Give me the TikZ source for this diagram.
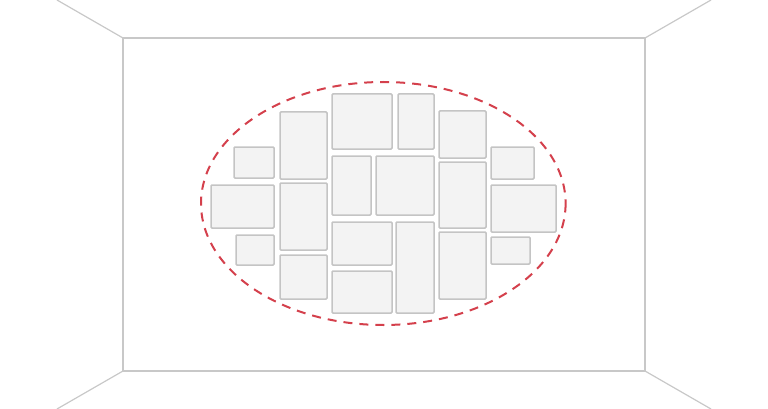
\documentclass[tikz,border=0pt]{standalone}
\definecolor{zonered}{RGB}{212,64,76}
\definecolor{framedraw}{RGB}{196,196,196}
\definecolor{framefill}{RGB}{243,243,243}
\definecolor{walldraw}{RGB}{200,200,200}
\begin{document}
\begin{tikzpicture}[x=1pt,y=-1pt,
  wall/.style={draw=walldraw,line width=1.2pt},
  frame/.style={draw=framedraw,fill=framefill,line width=1.5pt,rounded corners=1pt},
  zone/.style={draw=zonered,line width=2pt,dash pattern=on 9pt off 7pt}]
\useasboundingbox (0,0) rectangle (768,409);
\coordinate (tl) at (123,38);
\coordinate (tr) at (645,38);
\coordinate (bl) at (123,371);
\coordinate (br) at (645,371);
\coordinate (otl) at (57,0);
\coordinate (otr) at (711,0);
\coordinate (obl) at (57,409);
\coordinate (obr) at (711,409);
\draw[wall] (tl) rectangle (br);
\draw[wall] (otl) -- (tl);
\draw[wall] (otr) -- (tr);
\draw[wall] (obl) -- (bl);
\draw[wall] (obr) -- (br);
\draw[zone] (383.3,203.5) ellipse [x radius=182.3, y radius=121.5];
% column 1
\draw[frame] (234,147) rectangle (274,178);
\draw[frame] (211,185) rectangle (274,228);
\draw[frame] (236,235) rectangle (274,265);
% column 2
\draw[frame] (280,112) rectangle (327,179);
\draw[frame] (280,183) rectangle (327,250);
\draw[frame] (280,255) rectangle (327,299);
% column 3
\draw[frame] (332,94) rectangle (392,149);
\draw[frame] (332,156) rectangle (371,215);
\draw[frame] (332,222) rectangle (392,265);
\draw[frame] (332,271) rectangle (392,313);
% middle
\draw[frame] (376,156) rectangle (434,215);
\draw[frame] (398,94) rectangle (434,149);
\draw[frame] (396,222) rectangle (434,313);
% column 5
\draw[frame] (439,111) rectangle (486,158);
\draw[frame] (439,162) rectangle (486,228);
\draw[frame] (439,232) rectangle (486,299);
% column 6
\draw[frame] (491,147) rectangle (534,179);
\draw[frame] (491,185) rectangle (556,232);
\draw[frame] (491,237) rectangle (530,264);
\end{tikzpicture}
\end{document}
